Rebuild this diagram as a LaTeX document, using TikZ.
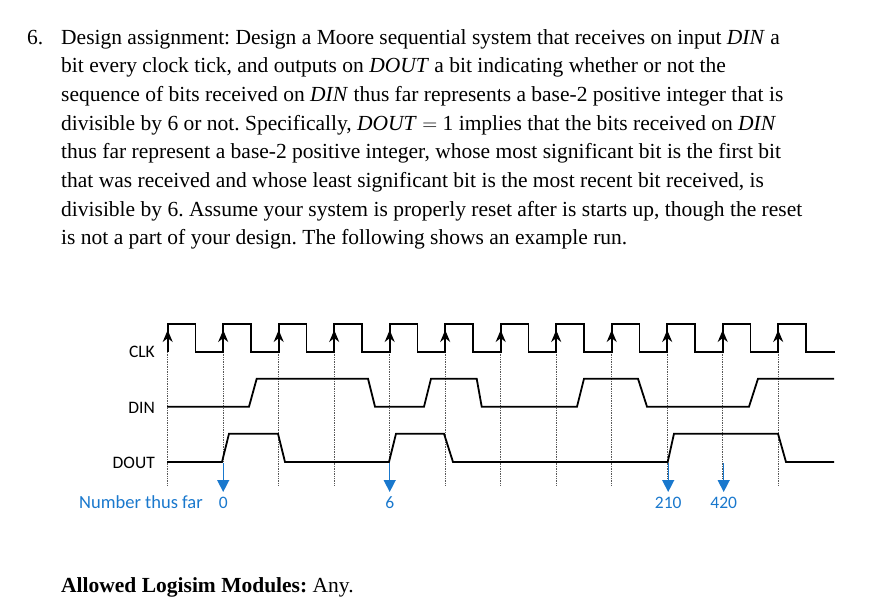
\documentclass[tikz,border=0pt]{standalone}
\usepackage{fontspec}
\setmainfont{Liberation Serif}
\newfontfamily\lab{Carlito}
\usetikzlibrary{arrows.meta}
\definecolor{blu}{RGB}{25,120,205}
\frenchspacing
\begin{document}
\begin{tikzpicture}[x=1pt,y=-1pt,
  txt/.style={anchor=base west,inner sep=0pt,font=\fontsize{21.5}{24}\selectfont},
  sig/.style={line width=1.8pt,line join=miter},
  lbl/.style={anchor=east,inner sep=0pt,font=\lab\fontsize{17.5}{20}\selectfont},
  num/.style={anchor=center,inner sep=0pt,font=\lab\fontsize{17.5}{20}\selectfont,text=blu},
  barr/.style={blu,line width=1.4pt,-{Triangle[length=12pt,width=12pt]}},
  dots/.style={densely dotted,line width=0.7pt,gray!70!black}]
\useasboundingbox (0,0) rectangle (879,616);
\node[txt] (t0) at (27,44) {6.};
\node[txt] (t1) at (61,44) {Design assignment: Design a Moore sequential system that receives on input \textit{DIN} a};
\node[txt] (t2) at (61,72.7) {bit every clock tick, and outputs on \textit{DOUT} a bit indicating whether or not the};
\node[txt] (t3) at (61,101.4) {sequence of bits received on \textit{DIN} thus far represents a base-2 positive integer that is};
\node[txt] (t4) at (61,130.1) {divisible by 6 or not. Specifically, \textit{DOUT} $=$ 1 implies that the bits received on \textit{DIN}};
\node[txt] (t5) at (61,158.8) {thus far represent a base-2 positive integer, whose most significant bit is the first bit};
\node[txt] (t6) at (61,187.5) {that was received and whose least significant bit is the most recent bit received, is};
\node[txt] (t7) at (61,216.2) {divisible by 6. Assume your system is properly reset after is starts up, though the reset};
\node[txt] (t8) at (61,244.9) {is not a part of your design. The following shows an example run.};
\node[txt] (t9) at (61,592) {\textbf{Allowed Logisim Modules:} Any.};
% labels
\node[lbl] (lclk) at (155,352) {CLK};
\node[lbl] (ldin) at (155,408) {DIN};
\node[lbl] (ldout) at (155,463) {DOUT};
\node[lbl,text=blu,font=\lab\fontsize{18.5}{20}\selectfont] (lnum) at (203,502) {Number thus far};
% dotted guides
\foreach \k in {0,...,11}{
  \pgfmathsetmacro\xx{167.7+55.5*\k}
  \draw[dots] (\xx,352) -- (\xx,486);
}
% clock
\draw[sig] (167.7,352) \foreach \k in {0,...,11}{
  -- ({167.7+55.5*\k},324) -- ({195.5+55.5*\k},324) -- ({195.5+55.5*\k},352) -- ({223.2+55.5*\k},352)} -- (834,352);
\foreach \k in {0,...,11}{
  \draw[line width=1.4pt,-{Stealth[length=12pt,width=10pt]}] ({167.7+55.5*\k},349) -- ({167.7+55.5*\k},330);
}
% DIN
\draw[sig] (167,406.7) -- (249,406.7) -- (256.7,378.7) -- (368,378.7) -- (375,406.7)
  -- (424,406.7) -- (431,378.7) -- (476.7,378.7) -- (481.7,406.7)
  -- (577,406.7) -- (584,378.7) -- (638,378.7) -- (647,406.7)
  -- (749,406.7) -- (758,378.7) -- (834,378.7);
% DOUT
\draw[sig] (167,462) -- (222,462) -- (229,433.7) -- (278,433.7) -- (285,462)
  -- (389,462) -- (396,433.7) -- (444,433.7) -- (453,462)
  -- (667.7,462) -- (674,433.7) -- (778,433.7) -- (786,462) -- (834,462);
% blue arrows
\coordinate (a0) at (223.2,463); \coordinate (b0) at (223.2,492);
\coordinate (a1) at (389.7,463); \coordinate (b1) at (389.7,492);
\coordinate (a2) at (668.2,463); \coordinate (b2) at (668.2,492);
\coordinate (a3) at (723.7,463); \coordinate (b3) at (723.7,492);
\draw[barr] (a0) -- (b0);
\draw[barr] (a1) -- (b1);
\draw[barr] (a2) -- (b2);
\draw[barr] (a3) -- (b3);
\node[num] (n0) at (223.2,503) {0};
\node[num] (n1) at (389.7,503) {6};
\node[num] (n2) at (668.2,503) {210};
\node[num] (n3) at (723.7,503) {420};
\end{tikzpicture}
\end{document}
